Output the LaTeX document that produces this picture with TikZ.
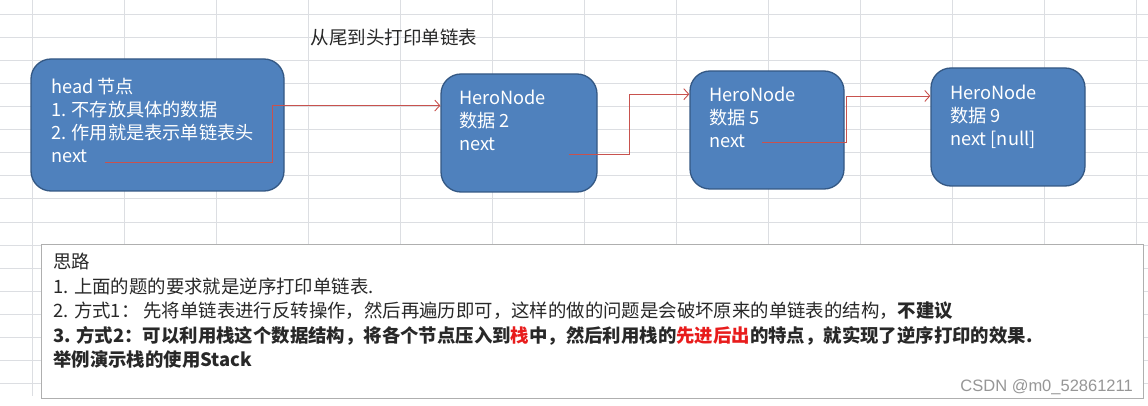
\documentclass[tikz,border=0pt]{standalone}
\usepackage{fontspec}
\setmainfont{Noto Sans CJK SC}
\newfontfamily\markfont{Liberation Sans}
\usetikzlibrary{arrows.meta,calc}
\definecolor{NodeBlue}{RGB}{79,129,189}
\definecolor{NodeEdge}{RGB}{52,88,132}
\definecolor{LinkRed}{RGB}{200,82,78}
\definecolor{GridGray}{RGB}{220,222,226}
\definecolor{BoxEdge}{RGB}{175,175,175}
\definecolor{NoteRed}{RGB}{232,28,28}
\definecolor{TitleInk}{RGB}{40,40,40}
\definecolor{MarkGray}{RGB}{150,150,150}

\begin{document}
\begin{tikzpicture}[
      x=1pt,y=-1pt,
      heroBox/.style={draw=NodeEdge,fill=NodeBlue,rounded corners=20pt,
                      line width=1.3pt,inner sep=0pt},
      heroText/.style={anchor=base west,align=left,text=white,inner sep=0pt,
                       font=\fontsize{18.2}{23.3}\selectfont},
      gridLine/.style={GridGray,line width=0.8pt},
      arLink/.style={-{Straight Barb[length=5pt,width=11pt]},LinkRed,line width=0.9pt}
    ]
    \useasboundingbox (0,0) rectangle (1148,406);

    % Spreadsheet grid behind everything
    \foreach \gx in {0,...,12}
      \draw[gridLine] (32+92*\gx,0) -- (32+92*\gx,396);
    \foreach \gy in {0,...,16}
      \draw[gridLine] (0,14+23.1*\gy) -- (1148,14+23.1*\gy);

    % Title
    \node(title)[text=TitleInk,font=\fontsize{18.5}{22}\selectfont] at (394,37) {从尾到头打印单链表};

    % Head node and the three HeroNode boxes
    \node(head)[heroBox,minimum width=253pt,minimum height=132pt] at (157.5,125) {};
    \node(n2)[heroBox,minimum width=156pt,minimum height=118pt] at (519,133) {};
    \node(n3)[heroBox,minimum width=154pt,minimum height=118pt] at (767,130) {};
    \node(n4)[heroBox,minimum width=154pt,minimum height=118pt] at (1008,127) {};

    % Box texts (anchored at the baseline of the last line)
    \node(headTxt)[heroText] at (51,163) {head 节点\\1. 不存放具体的数据\\2. 作用就是表示单链表头\\next};
    \node(n2Txt)[heroText] at (459,151) {HeroNode\\数据 2\\next};
    \node(n3Txt)[heroText] at (709,148) {HeroNode\\数据 5\\next};
    \node(n4Txt)[heroText] at (950,146) {HeroNode\\数据 9\\next [null]};

    % next links
    \coordinate (h1) at (105,162);
    \coordinate (h2) at (569,154);
    \coordinate (h3) at (762,142);
    \coordinate (e1) at ($(n2.north west)!.27!(n2.south west)$);
    \coordinate (e2) at ($(n3.north west)!.2!(n3.south west)$);
    \coordinate (e3) at ($(n4.north west)!.24!(n4.south west)$);
    \draw[arLink] (h1) -| ($(h1)!.5!(e1)$) |- (e1);
    \draw[arLink] (h2) -| ($(h2)!.5!(e2)$) |- (e2);
    \draw[arLink] (h3) -| ($(h3)!.5!(e3)$) |- (e3);

    % Notes box
    \node(notes)[draw=BoxEdge,fill=white,line width=0.8pt,minimum width=1102pt,
                 minimum height=154pt] at (592,321) {};
    \node(notesTxt)[anchor=base west,align=left,inner sep=0pt,text=TitleInk,
                    font=\fontsize{18.4}{24.5}\selectfont] at (53,366.5) {%
      思路\\
      1. 上面的题的要求就是逆序打印单链表.\\
      2. 方式1： 先将单链表进行反转操作，然后再遍历即可，这样的做的问题是会破坏原来的单链表的结构，\textbf{不建议}\\
      \textbf{3. 方式2：可以利用栈这个数据结构，将各个节点压入到\textcolor{NoteRed}{栈}中，然后利用栈的\textcolor{NoteRed}{先进后出}的特点，就实现了逆序打印的效果.}\\
      \textbf{举例演示栈的使用Stack}};

    % Watermark
    \node(mark)[anchor=east,inner sep=0pt,text=MarkGray,font=\markfont\fontsize{16.5}{18}\selectfont]
      at (1133,387) {CSDN @m0\_52861211};
  \end{tikzpicture}
\end{document}
